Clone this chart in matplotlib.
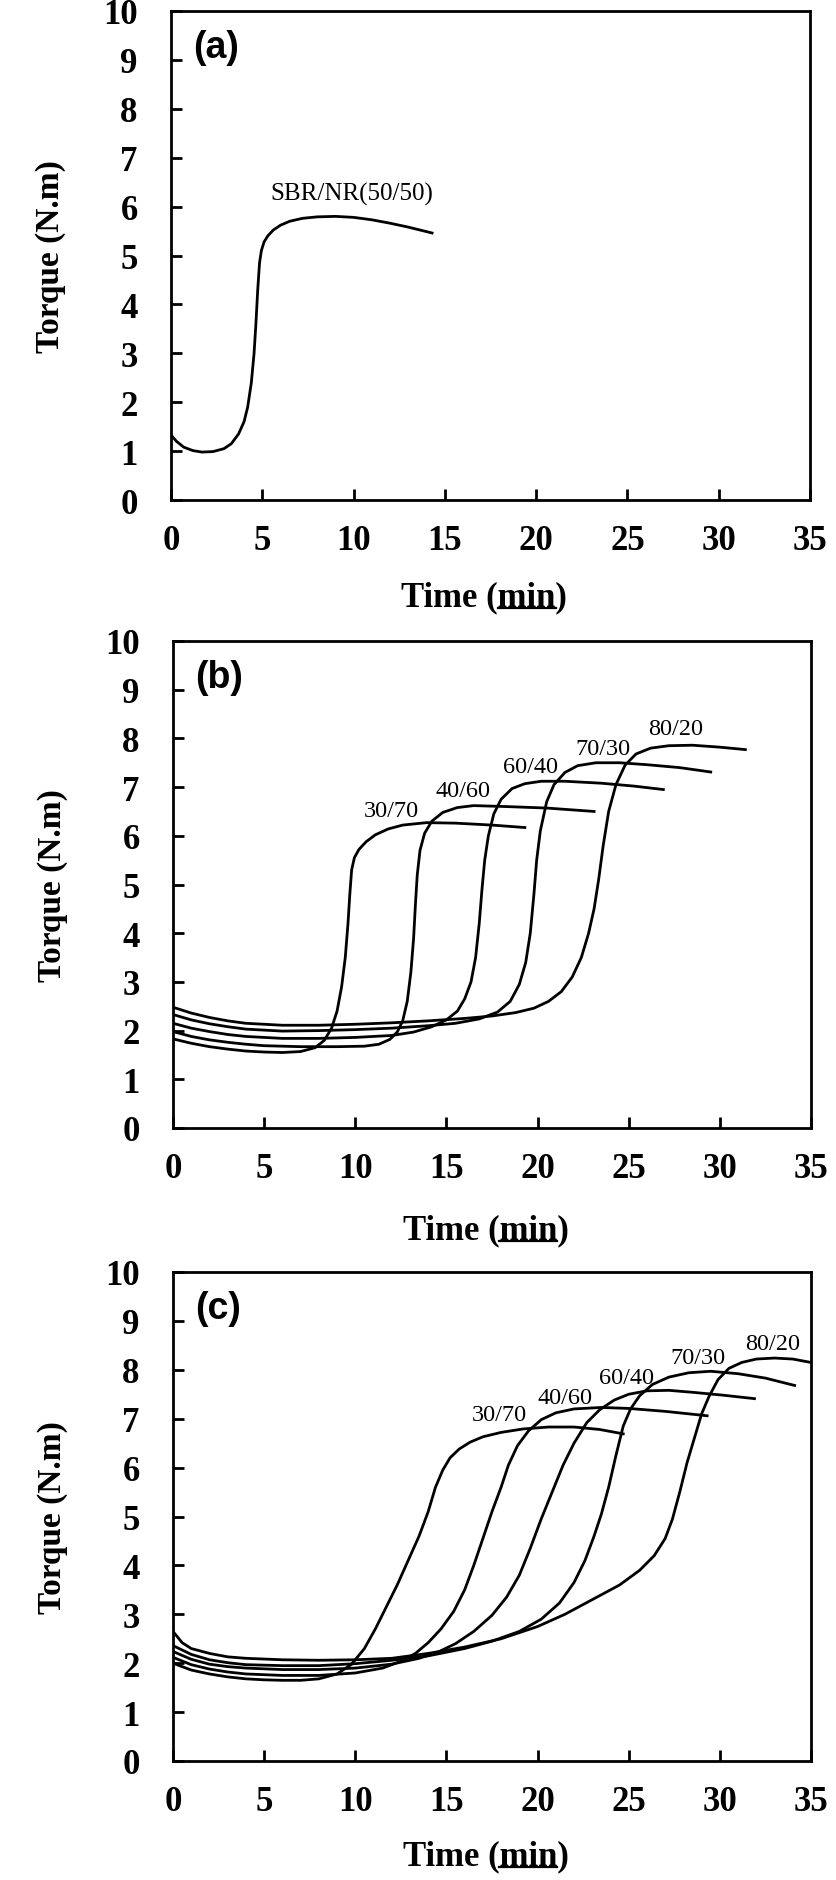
import matplotlib
matplotlib.use("Agg")
import matplotlib.pyplot as plt
from matplotlib.lines import Line2D
from matplotlib.transforms import IdentityTransform

plt.rcParams['font.family'] = ['Liberation Serif', 'DejaVu Serif']

# ---- panel (a): SBR/NR 50/50 ----
a_t = [0, 0.3, 0.7, 1.2, 1.7, 2.3, 2.9, 3.3, 3.7, 4.0, 4.2, 4.4, 4.55, 4.65, 4.75,
       4.85, 4.95, 5.1, 5.3, 5.6, 6.0, 6.5, 7.2, 8.0, 9.0, 10.0, 11.0, 12.0, 13.0, 14.3]
a_y = [1.33, 1.2, 1.08, 1.01, 0.98, 0.99, 1.05, 1.15, 1.35, 1.6, 1.9, 2.4, 3.0, 3.6,
       4.3, 4.85, 5.1, 5.28, 5.4, 5.52, 5.62, 5.7, 5.76, 5.79, 5.8, 5.78, 5.73, 5.66, 5.58, 5.46]

# ---- panel (b) ----
b_labels = ['30/70', '40/60', '60/40', '70/30', '80/20']
b_t = [
    [0, 1, 2, 3, 4, 5, 6, 7, 7.8, 8.3, 8.7, 9.0, 9.25, 9.45, 9.6, 9.7, 9.8, 9.95,
     10.2, 10.6, 11.1, 11.8, 12.6, 13.9, 15.5, 17.5, 19.3],
    [0, 1, 2, 3, 4, 5, 7, 9, 10.5, 11.3, 11.9, 12.3, 12.6, 12.85, 13.05, 13.2, 13.3,
     13.4, 13.55, 13.8, 14.2, 14.8, 15.6, 16.5, 18.3, 20.5, 23.1],
    [0, 1, 2, 3, 4, 6, 8, 10, 12, 13.2, 14.2, 15.0, 15.6, 16.0, 16.35, 16.6, 16.8,
     16.95, 17.1, 17.3, 17.6, 18.0, 18.6, 19.3, 20.2, 21.5, 23.5, 25.3, 26.9],
    [0, 1, 2, 3, 4, 6, 8, 10, 12, 14, 15.5, 16.8, 17.8, 18.5, 19.0, 19.35, 19.6, 19.8,
     19.95, 20.15, 20.5, 20.9, 21.5, 22.2, 23.2, 24.5, 26.0, 27.8, 29.5],
    [0, 1, 2, 3, 4, 6, 8, 10, 12, 14, 16, 17.5, 18.8, 19.8, 20.6, 21.3, 21.9, 22.4,
     22.8, 23.1, 23.35, 23.6, 23.9, 24.3, 24.8, 25.4, 26.2, 27.2, 28.5, 30.0, 31.4],
]
b_y = [
    [1.83, 1.74, 1.67, 1.62, 1.58, 1.56, 1.55, 1.57, 1.65, 1.8, 2.05, 2.4, 2.9, 3.5,
     4.2, 4.8, 5.3, 5.55, 5.72, 5.88, 6.02, 6.14, 6.22, 6.27, 6.26, 6.22, 6.17],
    [1.98, 1.88, 1.81, 1.76, 1.72, 1.69, 1.67, 1.67, 1.68, 1.72, 1.82, 1.97, 2.2, 2.6,
     3.2, 3.9, 4.6, 5.2, 5.7, 6.05, 6.3, 6.48, 6.58, 6.62, 6.6, 6.57, 6.5],
    [2.15, 2.05, 1.98, 1.92, 1.88, 1.84, 1.84, 1.86, 1.9, 1.97, 2.08, 2.22, 2.4, 2.65,
     3.0, 3.5, 4.2, 4.9, 5.5, 6.0, 6.45, 6.75, 6.97, 7.07, 7.12, 7.12, 7.08, 7.02, 6.95],
    [2.33, 2.22, 2.14, 2.08, 2.03, 1.99, 2.0, 2.02, 2.05, 2.1, 2.15, 2.24, 2.38, 2.6,
     2.95, 3.4, 4.0, 4.8, 5.5, 6.1, 6.7, 7.05, 7.3, 7.44, 7.5, 7.5, 7.46, 7.4, 7.31],
    [2.48, 2.36, 2.27, 2.2, 2.15, 2.11, 2.11, 2.13, 2.16, 2.2, 2.25, 2.3, 2.37, 2.46,
     2.6, 2.8, 3.1, 3.5, 4.0, 4.5, 5.1, 5.8, 6.5, 7.05, 7.45, 7.68, 7.8, 7.85, 7.86, 7.82, 7.77],
]
b_lab_x = [12.0, 15.9, 19.6, 23.6, 27.6]
b_lab_y = [6.52, 6.93, 7.42, 7.79, 8.2]

# ---- panel (c) ----
c_labels = ['30/70', '40/60', '60/40', '70/30', '80/20']
c_t = [
    [0, 1, 2, 3, 4, 5, 6, 7, 8, 9, 9.8, 10.5, 11.1, 11.7, 12.3, 12.9, 13.5, 14.0,
     14.4, 14.8, 15.2, 15.7, 16.3, 17.0, 18.0, 19.2, 20.6, 22.0, 23.4, 24.7],
    [0, 1, 2, 3, 4, 6, 8, 10, 11.5, 12.5, 13.3, 14.0, 14.7, 15.4, 16.0, 16.5, 17.0,
     17.5, 18.0, 18.4, 18.9, 19.5, 20.2, 21.0, 22.0, 23.5, 25.0, 27.0, 29.3],
    [0, 1, 2, 3, 4, 6, 8, 10, 12, 13.5, 14.5, 15.5, 16.5, 17.5, 18.3, 19.0, 19.6,
     20.2, 20.8, 21.4, 22.0, 22.7, 23.4, 24.2, 25.0, 26.0, 27.2, 28.5, 30.2, 31.9],
    [0, 1, 2, 3, 4, 6, 8, 10, 12, 14, 16, 17.5, 19.0, 20.2, 21.2, 22.0, 22.6, 23.1,
     23.5, 23.9, 24.3, 24.7, 25.1, 25.6, 26.3, 27.2, 28.3, 29.5, 31.0, 32.5, 34.1],
    [0, 0.5, 1, 2, 3, 4, 6, 8, 10, 12, 14, 16, 18, 20, 21.5, 23.0, 24.5, 25.6, 26.4,
     27.0, 27.4, 27.8, 28.2, 28.6, 29.0, 29.4, 29.9, 30.5, 31.2, 32.0, 33.0, 34.0, 35.0],
]
c_y = [
    [2.0, 1.86, 1.78, 1.72, 1.68, 1.66, 1.65, 1.65, 1.68, 1.78, 1.98, 2.3, 2.7, 3.15,
     3.6, 4.1, 4.6, 5.1, 5.6, 5.95, 6.2, 6.38, 6.52, 6.63, 6.72, 6.79, 6.83, 6.83, 6.78, 6.69],
    [2.12, 1.97, 1.88, 1.82, 1.78, 1.75, 1.75, 1.8, 1.9, 2.04, 2.2, 2.42, 2.7, 3.06,
     3.5, 4.0, 4.55, 5.1, 5.6, 6.05, 6.45, 6.75, 6.98, 7.12, 7.2, 7.23, 7.21, 7.15, 7.06],
    [2.24, 2.08, 1.98, 1.93, 1.9, 1.87, 1.87, 1.9, 1.98, 2.1, 2.22, 2.4, 2.65, 2.98,
     3.35, 3.8, 4.35, 4.95, 5.5, 6.05, 6.5, 6.92, 7.18, 7.38, 7.5, 7.57, 7.58, 7.54, 7.48, 7.41],
    [2.36, 2.18, 2.07, 2.01, 1.97, 1.95, 1.95, 1.99, 2.06, 2.15, 2.3, 2.45, 2.65, 2.9,
     3.23, 3.65, 4.1, 4.6, 5.05, 5.6, 6.25, 6.85, 7.2, 7.47, 7.7, 7.85, 7.94, 7.97, 7.92, 7.83, 7.68],
    [2.65, 2.42, 2.3, 2.2, 2.13, 2.1, 2.07, 2.06, 2.07, 2.1, 2.2, 2.33, 2.5, 2.75, 3.0,
     3.3, 3.6, 3.9, 4.2, 4.55, 4.95, 5.5, 6.1, 6.6, 7.1, 7.45, 7.8, 8.03, 8.15, 8.22, 8.24, 8.22, 8.15],
]
c_lab_x = [17.9, 21.5, 24.9, 28.8, 32.9]
c_lab_y = [7.08, 7.43, 7.84, 8.25, 8.54]

W, H = 837, 1881
fig = plt.figure(figsize=(W / 100, H / 100), dpi=100)

# axes boxes in pixels: (left, top, right, bottom)
boxes = [(171, 12, 810, 501), (173, 642, 811, 1129), (173, 1273, 811, 1762)]
xlab_y = [-0.165, -0.175, -0.16]
axes = []
for (l, t, r, b) in boxes:
    axes.append(fig.add_axes([l / W, 1 - b / H, (r - l) / W, (b - t) / H]))

for i, ax in enumerate(axes):
    ax.set_xlim(0, 35)
    ax.set_ylim(0, 10)
    ax.set_xticks(range(0, 36, 5))
    ax.set_yticks(range(0, 11))
    ax.tick_params(direction='in', length=8, width=2, labelsize=25, colors='black')
    ax.tick_params(axis='y', pad=24)
    ax.tick_params(axis='x', pad=17)
    for lab in ax.get_xticklabels() + ax.get_yticklabels():
        lab.set_fontweight('bold')
    for sp in ax.spines.values():
        sp.set_linewidth(2)
    ax.set_xlabel('Time (min)', fontsize=25, fontweight='bold')
    ax.set_ylabel('Torque (N.m)', fontsize=24, fontweight='bold')
    ax.xaxis.set_label_coords(0.49, xlab_y[i])
    ax.yaxis.set_label_coords(-0.165, 0.5)
    ax.text(1.2, 9.26, '(' + 'abc'[i] + ')', fontsize=27, fontweight='bold',
            family=['Liberation Sans', 'DejaVu Sans'], ha='left', va='center')

ax = axes[0]
ax.plot(a_t, a_y, color='black', lw=2.0)
ax.text(9.9, 6.26, 'SBR/NR(50/50)', fontsize=18, ha='center', va='center')

for ax, ts, ys, labs, lx, ly in [(axes[1], b_t, b_y, b_labels, b_lab_x, b_lab_y),
                                  (axes[2], c_t, c_y, c_labels, c_lab_x, c_lab_y)]:
    for t, y in zip(ts, ys):
        ax.plot(t, y, color='black', lw=2.0)
    for s, x, y in zip(labs, lx, ly):
        ax.text(x, y, s, fontsize=17.5, ha='center', va='center')

# underline under "min" in each x label, as in the original
renderer = fig.canvas.get_renderer()
for ax in axes:
    lab = ax.xaxis.label
    bb = lab.get_window_extent(renderer)
    fp = lab.get_fontproperties()
    tmp = fig.text(0, 0, 'Time (', fontproperties=fp)
    w1 = tmp.get_window_extent(renderer).width
    tmp.set_text('min')
    w2 = tmp.get_window_extent(renderer).width
    tmp.remove()
    yl = bb.y0 + 0.16 * bb.height
    fig.add_artist(Line2D([bb.x0 + w1, bb.x0 + w1 + w2], [yl, yl], lw=1.6,
                          color='black', transform=IdentityTransform()))

fig.savefig('out.png', dpi=100)
